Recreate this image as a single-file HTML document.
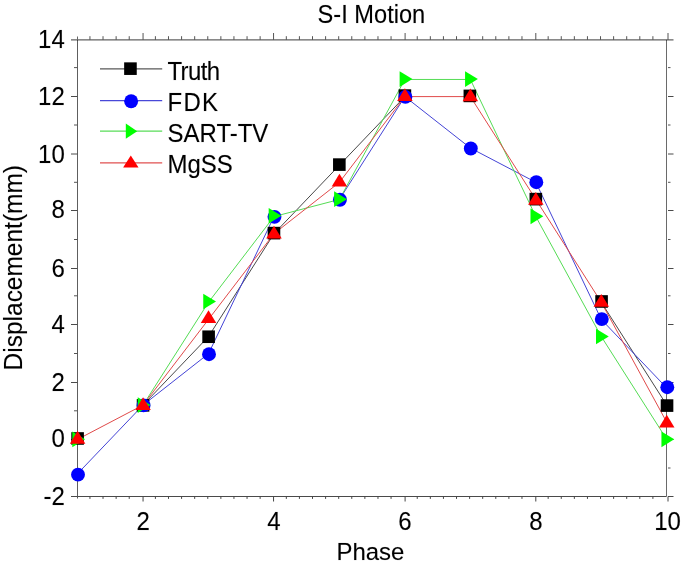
<!DOCTYPE html><html><head><meta charset="utf-8"><style>html,body{margin:0;padding:0;background:#fff;}svg{display:block;}text{font-family:"Liberation Sans",Arial,sans-serif;fill:#000;stroke:#000;stroke-width:0.5px;stroke-opacity:0.2;}</style></head><body>
<svg width="685" height="564" viewBox="0 0 685 564">
<rect width="685" height="564" fill="#fff"/>
<line x1="77.5" y1="39.9" x2="77.5" y2="496.5" stroke="#5e5e5e" stroke-width="1"/>
<line x1="666.5" y1="39.9" x2="666.5" y2="496.5" stroke="#6a6a6a" stroke-width="1"/>
<line x1="71" y1="39.9" x2="673.5" y2="39.9" stroke="#000" stroke-width="1.2" stroke-opacity="0.62"/>
<line x1="71" y1="496.5" x2="666.5" y2="496.5" stroke="#4a4a4a" stroke-width="1"/>
<line x1="668" y1="496.5" x2="673.5" y2="496.5" stroke="#4a4a4a" stroke-width="1"/>
<line x1="77.5" y1="496.5" x2="77.5" y2="498.5" stroke="#555" stroke-width="1"/>
<line x1="77.5" y1="39.9" x2="77.5" y2="36.5" stroke="#666" stroke-width="1"/>
<line x1="89.94" y1="496.5" x2="89.94" y2="498.9" stroke="#444" stroke-width="1"/>
<line x1="89.94" y1="39.9" x2="89.94" y2="36.2" stroke="#555" stroke-width="1"/>
<line x1="103.03" y1="496.5" x2="103.03" y2="498.9" stroke="#444" stroke-width="1"/>
<line x1="103.03" y1="39.9" x2="103.03" y2="36.2" stroke="#555" stroke-width="1"/>
<line x1="116.13" y1="496.5" x2="116.13" y2="498.9" stroke="#444" stroke-width="1"/>
<line x1="116.13" y1="39.9" x2="116.13" y2="36.2" stroke="#555" stroke-width="1"/>
<line x1="129.22" y1="496.5" x2="129.22" y2="498.9" stroke="#444" stroke-width="1"/>
<line x1="129.22" y1="39.9" x2="129.22" y2="36.2" stroke="#555" stroke-width="1"/>
<line x1="143.05" y1="496.5" x2="143.05" y2="501.5" stroke="#444" stroke-width="1"/>
<line x1="143.05" y1="39.9" x2="143.05" y2="33" stroke="#555" stroke-width="1"/>
<line x1="155.4" y1="496.5" x2="155.4" y2="498.9" stroke="#444" stroke-width="1"/>
<line x1="155.4" y1="39.9" x2="155.4" y2="36.2" stroke="#555" stroke-width="1"/>
<line x1="168.49" y1="496.5" x2="168.49" y2="498.9" stroke="#444" stroke-width="1"/>
<line x1="168.49" y1="39.9" x2="168.49" y2="36.2" stroke="#555" stroke-width="1"/>
<line x1="181.59" y1="496.5" x2="181.59" y2="498.9" stroke="#444" stroke-width="1"/>
<line x1="181.59" y1="39.9" x2="181.59" y2="36.2" stroke="#555" stroke-width="1"/>
<line x1="194.68" y1="496.5" x2="194.68" y2="498.9" stroke="#444" stroke-width="1"/>
<line x1="194.68" y1="39.9" x2="194.68" y2="36.2" stroke="#555" stroke-width="1"/>
<line x1="207.77" y1="496.5" x2="207.77" y2="498.9" stroke="#444" stroke-width="1"/>
<line x1="207.77" y1="39.9" x2="207.77" y2="36.2" stroke="#555" stroke-width="1"/>
<line x1="220.86" y1="496.5" x2="220.86" y2="498.9" stroke="#444" stroke-width="1"/>
<line x1="220.86" y1="39.9" x2="220.86" y2="36.2" stroke="#555" stroke-width="1"/>
<line x1="233.95" y1="496.5" x2="233.95" y2="498.9" stroke="#444" stroke-width="1"/>
<line x1="233.95" y1="39.9" x2="233.95" y2="36.2" stroke="#555" stroke-width="1"/>
<line x1="247.05" y1="496.5" x2="247.05" y2="498.9" stroke="#444" stroke-width="1"/>
<line x1="247.05" y1="39.9" x2="247.05" y2="36.2" stroke="#555" stroke-width="1"/>
<line x1="260.14" y1="496.5" x2="260.14" y2="498.9" stroke="#444" stroke-width="1"/>
<line x1="260.14" y1="39.9" x2="260.14" y2="36.2" stroke="#555" stroke-width="1"/>
<line x1="273.55" y1="496.5" x2="273.55" y2="501.5" stroke="#444" stroke-width="1"/>
<line x1="273.55" y1="39.9" x2="273.55" y2="33" stroke="#555" stroke-width="1"/>
<line x1="286.32" y1="496.5" x2="286.32" y2="498.9" stroke="#444" stroke-width="1"/>
<line x1="286.32" y1="39.9" x2="286.32" y2="36.2" stroke="#555" stroke-width="1"/>
<line x1="299.41" y1="496.5" x2="299.41" y2="498.9" stroke="#444" stroke-width="1"/>
<line x1="299.41" y1="39.9" x2="299.41" y2="36.2" stroke="#555" stroke-width="1"/>
<line x1="312.51" y1="496.5" x2="312.51" y2="498.9" stroke="#444" stroke-width="1"/>
<line x1="312.51" y1="39.9" x2="312.51" y2="36.2" stroke="#555" stroke-width="1"/>
<line x1="325.6" y1="496.5" x2="325.6" y2="498.9" stroke="#444" stroke-width="1"/>
<line x1="325.6" y1="39.9" x2="325.6" y2="36.2" stroke="#555" stroke-width="1"/>
<line x1="338.69" y1="496.5" x2="338.69" y2="498.9" stroke="#444" stroke-width="1"/>
<line x1="338.69" y1="39.9" x2="338.69" y2="36.2" stroke="#555" stroke-width="1"/>
<line x1="351.78" y1="496.5" x2="351.78" y2="498.9" stroke="#444" stroke-width="1"/>
<line x1="351.78" y1="39.9" x2="351.78" y2="36.2" stroke="#555" stroke-width="1"/>
<line x1="364.87" y1="496.5" x2="364.87" y2="498.9" stroke="#444" stroke-width="1"/>
<line x1="364.87" y1="39.9" x2="364.87" y2="36.2" stroke="#555" stroke-width="1"/>
<line x1="377.97" y1="496.5" x2="377.97" y2="498.9" stroke="#444" stroke-width="1"/>
<line x1="377.97" y1="39.9" x2="377.97" y2="36.2" stroke="#555" stroke-width="1"/>
<line x1="391.06" y1="496.5" x2="391.06" y2="498.9" stroke="#444" stroke-width="1"/>
<line x1="391.06" y1="39.9" x2="391.06" y2="36.2" stroke="#555" stroke-width="1"/>
<line x1="405.1" y1="496.5" x2="405.1" y2="501.5" stroke="#444" stroke-width="1"/>
<line x1="405.1" y1="39.9" x2="405.1" y2="33" stroke="#555" stroke-width="1"/>
<line x1="417.24" y1="496.5" x2="417.24" y2="498.9" stroke="#444" stroke-width="1"/>
<line x1="417.24" y1="39.9" x2="417.24" y2="36.2" stroke="#555" stroke-width="1"/>
<line x1="430.33" y1="496.5" x2="430.33" y2="498.9" stroke="#444" stroke-width="1"/>
<line x1="430.33" y1="39.9" x2="430.33" y2="36.2" stroke="#555" stroke-width="1"/>
<line x1="443.43" y1="496.5" x2="443.43" y2="498.9" stroke="#444" stroke-width="1"/>
<line x1="443.43" y1="39.9" x2="443.43" y2="36.2" stroke="#555" stroke-width="1"/>
<line x1="456.52" y1="496.5" x2="456.52" y2="498.9" stroke="#444" stroke-width="1"/>
<line x1="456.52" y1="39.9" x2="456.52" y2="36.2" stroke="#555" stroke-width="1"/>
<line x1="469.61" y1="496.5" x2="469.61" y2="498.9" stroke="#444" stroke-width="1"/>
<line x1="469.61" y1="39.9" x2="469.61" y2="36.2" stroke="#555" stroke-width="1"/>
<line x1="482.7" y1="496.5" x2="482.7" y2="498.9" stroke="#444" stroke-width="1"/>
<line x1="482.7" y1="39.9" x2="482.7" y2="36.2" stroke="#555" stroke-width="1"/>
<line x1="495.79" y1="496.5" x2="495.79" y2="498.9" stroke="#444" stroke-width="1"/>
<line x1="495.79" y1="39.9" x2="495.79" y2="36.2" stroke="#555" stroke-width="1"/>
<line x1="508.89" y1="496.5" x2="508.89" y2="498.9" stroke="#444" stroke-width="1"/>
<line x1="508.89" y1="39.9" x2="508.89" y2="36.2" stroke="#555" stroke-width="1"/>
<line x1="521.98" y1="496.5" x2="521.98" y2="498.9" stroke="#444" stroke-width="1"/>
<line x1="521.98" y1="39.9" x2="521.98" y2="36.2" stroke="#555" stroke-width="1"/>
<line x1="535.8" y1="496.5" x2="535.8" y2="501.5" stroke="#444" stroke-width="1"/>
<line x1="535.8" y1="39.9" x2="535.8" y2="33" stroke="#555" stroke-width="1"/>
<line x1="548.16" y1="496.5" x2="548.16" y2="498.9" stroke="#444" stroke-width="1"/>
<line x1="548.16" y1="39.9" x2="548.16" y2="36.2" stroke="#555" stroke-width="1"/>
<line x1="561.25" y1="496.5" x2="561.25" y2="498.9" stroke="#444" stroke-width="1"/>
<line x1="561.25" y1="39.9" x2="561.25" y2="36.2" stroke="#555" stroke-width="1"/>
<line x1="574.35" y1="496.5" x2="574.35" y2="498.9" stroke="#444" stroke-width="1"/>
<line x1="574.35" y1="39.9" x2="574.35" y2="36.2" stroke="#555" stroke-width="1"/>
<line x1="587.44" y1="496.5" x2="587.44" y2="498.9" stroke="#444" stroke-width="1"/>
<line x1="587.44" y1="39.9" x2="587.44" y2="36.2" stroke="#555" stroke-width="1"/>
<line x1="600.53" y1="496.5" x2="600.53" y2="498.9" stroke="#444" stroke-width="1"/>
<line x1="600.53" y1="39.9" x2="600.53" y2="36.2" stroke="#555" stroke-width="1"/>
<line x1="613.62" y1="496.5" x2="613.62" y2="498.9" stroke="#444" stroke-width="1"/>
<line x1="613.62" y1="39.9" x2="613.62" y2="36.2" stroke="#555" stroke-width="1"/>
<line x1="626.71" y1="496.5" x2="626.71" y2="498.9" stroke="#444" stroke-width="1"/>
<line x1="626.71" y1="39.9" x2="626.71" y2="36.2" stroke="#555" stroke-width="1"/>
<line x1="639.81" y1="496.5" x2="639.81" y2="498.9" stroke="#444" stroke-width="1"/>
<line x1="639.81" y1="39.9" x2="639.81" y2="36.2" stroke="#555" stroke-width="1"/>
<line x1="652.9" y1="496.5" x2="652.9" y2="498.9" stroke="#444" stroke-width="1"/>
<line x1="652.9" y1="39.9" x2="652.9" y2="36.2" stroke="#555" stroke-width="1"/>
<line x1="668" y1="496.5" x2="668" y2="501.5" stroke="#444" stroke-width="1"/>
<line x1="668" y1="39.9" x2="668" y2="33" stroke="#555" stroke-width="1"/>
<line x1="668" y1="468" x2="670.5" y2="468" stroke="#555" stroke-width="1"/>
<line x1="71" y1="439.5" x2="77.5" y2="439.5" stroke="#4a4a4a" stroke-width="1"/>
<line x1="668" y1="439.5" x2="673.5" y2="439.5" stroke="#4a4a4a" stroke-width="1"/>
<line x1="74" y1="410.8" x2="77.5" y2="410.8" stroke="#555" stroke-width="1"/>
<line x1="668" y1="410.8" x2="670.5" y2="410.8" stroke="#555" stroke-width="1"/>
<line x1="71" y1="382.5" x2="77.5" y2="382.5" stroke="#4a4a4a" stroke-width="1"/>
<line x1="668" y1="382.5" x2="673.5" y2="382.5" stroke="#4a4a4a" stroke-width="1"/>
<line x1="74" y1="353.5" x2="77.5" y2="353.5" stroke="#555" stroke-width="1"/>
<line x1="668" y1="353.5" x2="670.5" y2="353.5" stroke="#555" stroke-width="1"/>
<line x1="71" y1="324.5" x2="77.5" y2="324.5" stroke="#4a4a4a" stroke-width="1"/>
<line x1="668" y1="324.5" x2="673.5" y2="324.5" stroke="#4a4a4a" stroke-width="1"/>
<line x1="74" y1="295.8" x2="77.5" y2="295.8" stroke="#555" stroke-width="1"/>
<line x1="668" y1="295.8" x2="670.5" y2="295.8" stroke="#555" stroke-width="1"/>
<line x1="71" y1="268.5" x2="77.5" y2="268.5" stroke="#4a4a4a" stroke-width="1"/>
<line x1="668" y1="268.5" x2="673.5" y2="268.5" stroke="#4a4a4a" stroke-width="1"/>
<line x1="74" y1="239.5" x2="77.5" y2="239.5" stroke="#555" stroke-width="1"/>
<line x1="668" y1="239.5" x2="670.5" y2="239.5" stroke="#555" stroke-width="1"/>
<line x1="71" y1="210.5" x2="77.5" y2="210.5" stroke="#4a4a4a" stroke-width="1"/>
<line x1="668" y1="210.5" x2="673.5" y2="210.5" stroke="#4a4a4a" stroke-width="1"/>
<line x1="74" y1="182.3" x2="77.5" y2="182.3" stroke="#555" stroke-width="1"/>
<line x1="668" y1="182.3" x2="670.5" y2="182.3" stroke="#555" stroke-width="1"/>
<line x1="71" y1="154.0" x2="77.5" y2="154.0" stroke="#4a4a4a" stroke-width="1"/>
<line x1="668" y1="154.0" x2="673.5" y2="154.0" stroke="#4a4a4a" stroke-width="1"/>
<line x1="74" y1="125.0" x2="77.5" y2="125.0" stroke="#555" stroke-width="1"/>
<line x1="668" y1="125.0" x2="670.5" y2="125.0" stroke="#555" stroke-width="1"/>
<line x1="71" y1="96.5" x2="77.5" y2="96.5" stroke="#4a4a4a" stroke-width="1"/>
<line x1="668" y1="96.5" x2="673.5" y2="96.5" stroke="#4a4a4a" stroke-width="1"/>
<line x1="74" y1="67.6" x2="77.5" y2="67.6" stroke="#555" stroke-width="1"/>
<line x1="668" y1="67.6" x2="670.5" y2="67.6" stroke="#555" stroke-width="1"/>
<path d="M143.06,405.09L208.52,336.54M208.52,336.54L273.98,233.71M273.98,233.71L339.44,165.16M339.44,165.16L404.9,96.6M601.28,302.26L666.74,405.09" fill="none" stroke="#484848" stroke-width="1.0" stroke-linejoin="round"/>
<path d="M77.6,473.65L143.06,405.09M143.06,405.09L208.52,353.68M208.52,353.68L273.98,216.57M339.44,199.43L404.9,96.6M404.9,96.6L470.36,148.02M470.36,148.02L535.82,182.29M535.82,182.29L601.28,319.4M601.28,319.4L666.74,387.95" fill="none" stroke="#4444d6" stroke-width="1.0" stroke-linejoin="round"/>
<path d="M143.06,405.09L208.52,302.26M208.52,302.26L273.98,216.57M273.98,216.57L339.44,199.43M339.44,199.43L404.9,79.46M404.9,79.46L470.36,79.46M470.36,79.46L535.82,216.57M535.82,216.57L601.28,336.54M601.28,336.54L666.74,439.37" fill="none" stroke="#54dc54" stroke-width="1.0" stroke-linejoin="round"/>
<path d="M77.6,439.37L143.06,405.09M143.06,405.09L208.52,319.4M208.52,319.4L273.98,233.71M273.98,233.71L339.44,182.29M339.44,182.29L404.9,96.6M404.9,96.6L470.36,96.6M470.36,96.6L535.82,199.43M535.82,199.43L601.28,302.26M601.28,302.26L666.74,422.23" fill="none" stroke="#e04a4a" stroke-width="1.0" stroke-linejoin="round"/>
<rect x="71.3" y="432.17" width="12.6" height="12.6" fill="#000"/>
<rect x="136.76" y="399.05" width="12.6" height="12.6" fill="#000"/>
<rect x="202.32" y="330.44" width="12.6" height="12.6" fill="#000"/>
<rect x="267.68" y="226.81" width="12.6" height="12.6" fill="#000"/>
<rect x="333.04" y="158.31" width="12.6" height="12.6" fill="#000"/>
<rect x="398.6" y="89.3" width="12.6" height="12.6" fill="#000"/>
<rect x="463.56" y="89.6" width="12.6" height="12.6" fill="#000"/>
<rect x="529.52" y="192.83" width="12.6" height="12.6" fill="#000"/>
<rect x="595.28" y="295.16" width="12.6" height="12.6" fill="#000"/>
<rect x="660.74" y="399.29" width="12.6" height="12.6" fill="#000"/>
<circle cx="78" cy="474.65" r="6.95" fill="#0000ff"/>
<circle cx="143.56" cy="405.39" r="6.95" fill="#0000ff"/>
<circle cx="209.02" cy="354.18" r="6.95" fill="#0000ff"/>
<circle cx="274.48" cy="216.87" r="6.95" fill="#0000ff"/>
<circle cx="339.94" cy="199.73" r="6.95" fill="#0000ff"/>
<circle cx="405.4" cy="96.9" r="6.95" fill="#0000ff"/>
<circle cx="470.8" cy="148.52" r="6.95" fill="#0000ff"/>
<circle cx="536.32" cy="182.19" r="6.95" fill="#0000ff"/>
<circle cx="601.78" cy="319.1" r="6.95" fill="#0000ff"/>
<circle cx="667.3" cy="387.19" r="6.95" fill="#0000ff"/>
<polygon points="72.3,431.57 85.1,439.37 72.3,447.17" fill="#00ff00"/>
<polygon points="137.76,397.29 150.56,405.09 137.76,412.89" fill="#00ff00"/>
<polygon points="203.22,293.7 216.02,301.5 203.22,309.3" fill="#00ff00"/>
<polygon points="268.68,208 281.48,215.8 268.68,223.6" fill="#00ff00"/>
<polygon points="334.14,191.33 346.94,199.13 334.14,206.93" fill="#00ff00"/>
<polygon points="399.6,71.3 412.4,79.1 399.6,86.9" fill="#00ff00"/>
<polygon points="465.06,71.3 477.86,79.1 465.06,86.9" fill="#00ff00"/>
<polygon points="530.52,208.57 543.32,216.37 530.52,224.17" fill="#00ff00"/>
<polygon points="595.98,328.74 608.78,336.54 595.98,344.34" fill="#00ff00"/>
<polygon points="661.44,431.57 674.24,439.37 661.44,447.17" fill="#00ff00"/>
<polygon points="77.6,430.87 85.35,443.67 69.85,443.67" fill="#ff0000"/>
<polygon points="143.06,397.19 150.81,409.99 135.31,409.99" fill="#ff0000"/>
<polygon points="208.52,310.23 216.27,323.03 200.77,323.03" fill="#ff0000"/>
<polygon points="273.98,225.81 281.73,238.61 266.23,238.61" fill="#ff0000"/>
<polygon points="339.44,173.69 347.19,186.49 331.69,186.49" fill="#ff0000"/>
<polygon points="404.9,88.3 412.65,101.1 397.15,101.1" fill="#ff0000"/>
<polygon points="470.36,88.4 478.11,101.2 462.61,101.2" fill="#ff0000"/>
<polygon points="535.82,191.93 543.57,204.73 528.07,204.73" fill="#ff0000"/>
<polygon points="601.28,294 609.03,306.8 593.53,306.8" fill="#ff0000"/>
<polygon points="666.74,414.7 674.49,427.5 658.99,427.5" fill="#ff0000"/>
<text transform="translate(64.8 504.8) scale(1 1.05)" font-size="24" text-anchor="end">-2</text>
<text transform="translate(64.8 447.2) scale(1 1.05)" font-size="24" text-anchor="end">0</text>
<text transform="translate(64.8 390.8) scale(1 1.05)" font-size="24" text-anchor="end">2</text>
<text transform="translate(64.8 332.9) scale(1 1.05)" font-size="24" text-anchor="end">4</text>
<text transform="translate(64.8 276.5) scale(1 1.05)" font-size="24" text-anchor="end">6</text>
<text transform="translate(64.8 218.4) scale(1 1.05)" font-size="24" text-anchor="end">8</text>
<text transform="translate(64.8 162.6) scale(1 1.05)" font-size="24" text-anchor="end">10</text>
<text transform="translate(64.8 104.9) scale(1 1.05)" font-size="24" text-anchor="end">12</text>
<text transform="translate(64.8 48.4) scale(1 1.05)" font-size="24" text-anchor="end">14</text>
<text transform="translate(143.06 530) scale(1 1.05)" font-size="24" text-anchor="middle">2</text>
<text transform="translate(273.98 530) scale(1 1.05)" font-size="24" text-anchor="middle">4</text>
<text transform="translate(404.9 530) scale(1 1.05)" font-size="24" text-anchor="middle">6</text>
<text transform="translate(535.82 530) scale(1 1.05)" font-size="24" text-anchor="middle">8</text>
<text transform="translate(667.54 530) scale(1 1.05)" font-size="24" text-anchor="middle">10</text>
<text transform="translate(371.4 22.8) scale(0.985 1.05)" font-size="24" text-anchor="middle">S-I Motion</text>
<text transform="translate(370.4 559.8) scale(1 1.03)" font-size="24" text-anchor="middle">Phase</text>
<text transform="translate(21.7 267.7) rotate(-90) scale(1.02 1.04)" font-size="24" text-anchor="middle">Displacement(mm)</text>
<line x1="100" y1="68.9" x2="162.2" y2="68.9" stroke="#585858" stroke-width="1.25"/>
<line x1="100" y1="100.5" x2="162.2" y2="100.5" stroke="#4848d8" stroke-width="1.25"/>
<line x1="100" y1="131.1" x2="162.2" y2="131.1" stroke="#58dc58" stroke-width="1.25"/>
<line x1="100" y1="162.9" x2="162.2" y2="162.9" stroke="#e05050" stroke-width="1.25"/>
<rect x="124.15" y="62.35" width="12.6" height="12.6" fill="#000"/>
<circle cx="131.15" cy="101.25" r="6.95" fill="#0000ff"/>
<polygon points="125.8,123.6 137.2,131.15 125.8,138.7" fill="#00ff00"/>
<polygon points="130.8,155.4 138.5,167.5 123.1,167.5" fill="#ff0000"/>
<text transform="translate(167.5 79.9) scale(1 1.05)" font-size="24" letter-spacing="-0.65">Truth</text>
<text transform="translate(167.5 110.9) scale(1 1.05)" font-size="24" letter-spacing="1.3">FDK</text>
<text transform="translate(167.5 141.5) scale(1 1.05)" font-size="24" letter-spacing="0">SART-TV</text>
<text transform="translate(167.5 173.3) scale(1 1.05)" font-size="24" letter-spacing="0">MgSS</text>
</svg></body></html>
